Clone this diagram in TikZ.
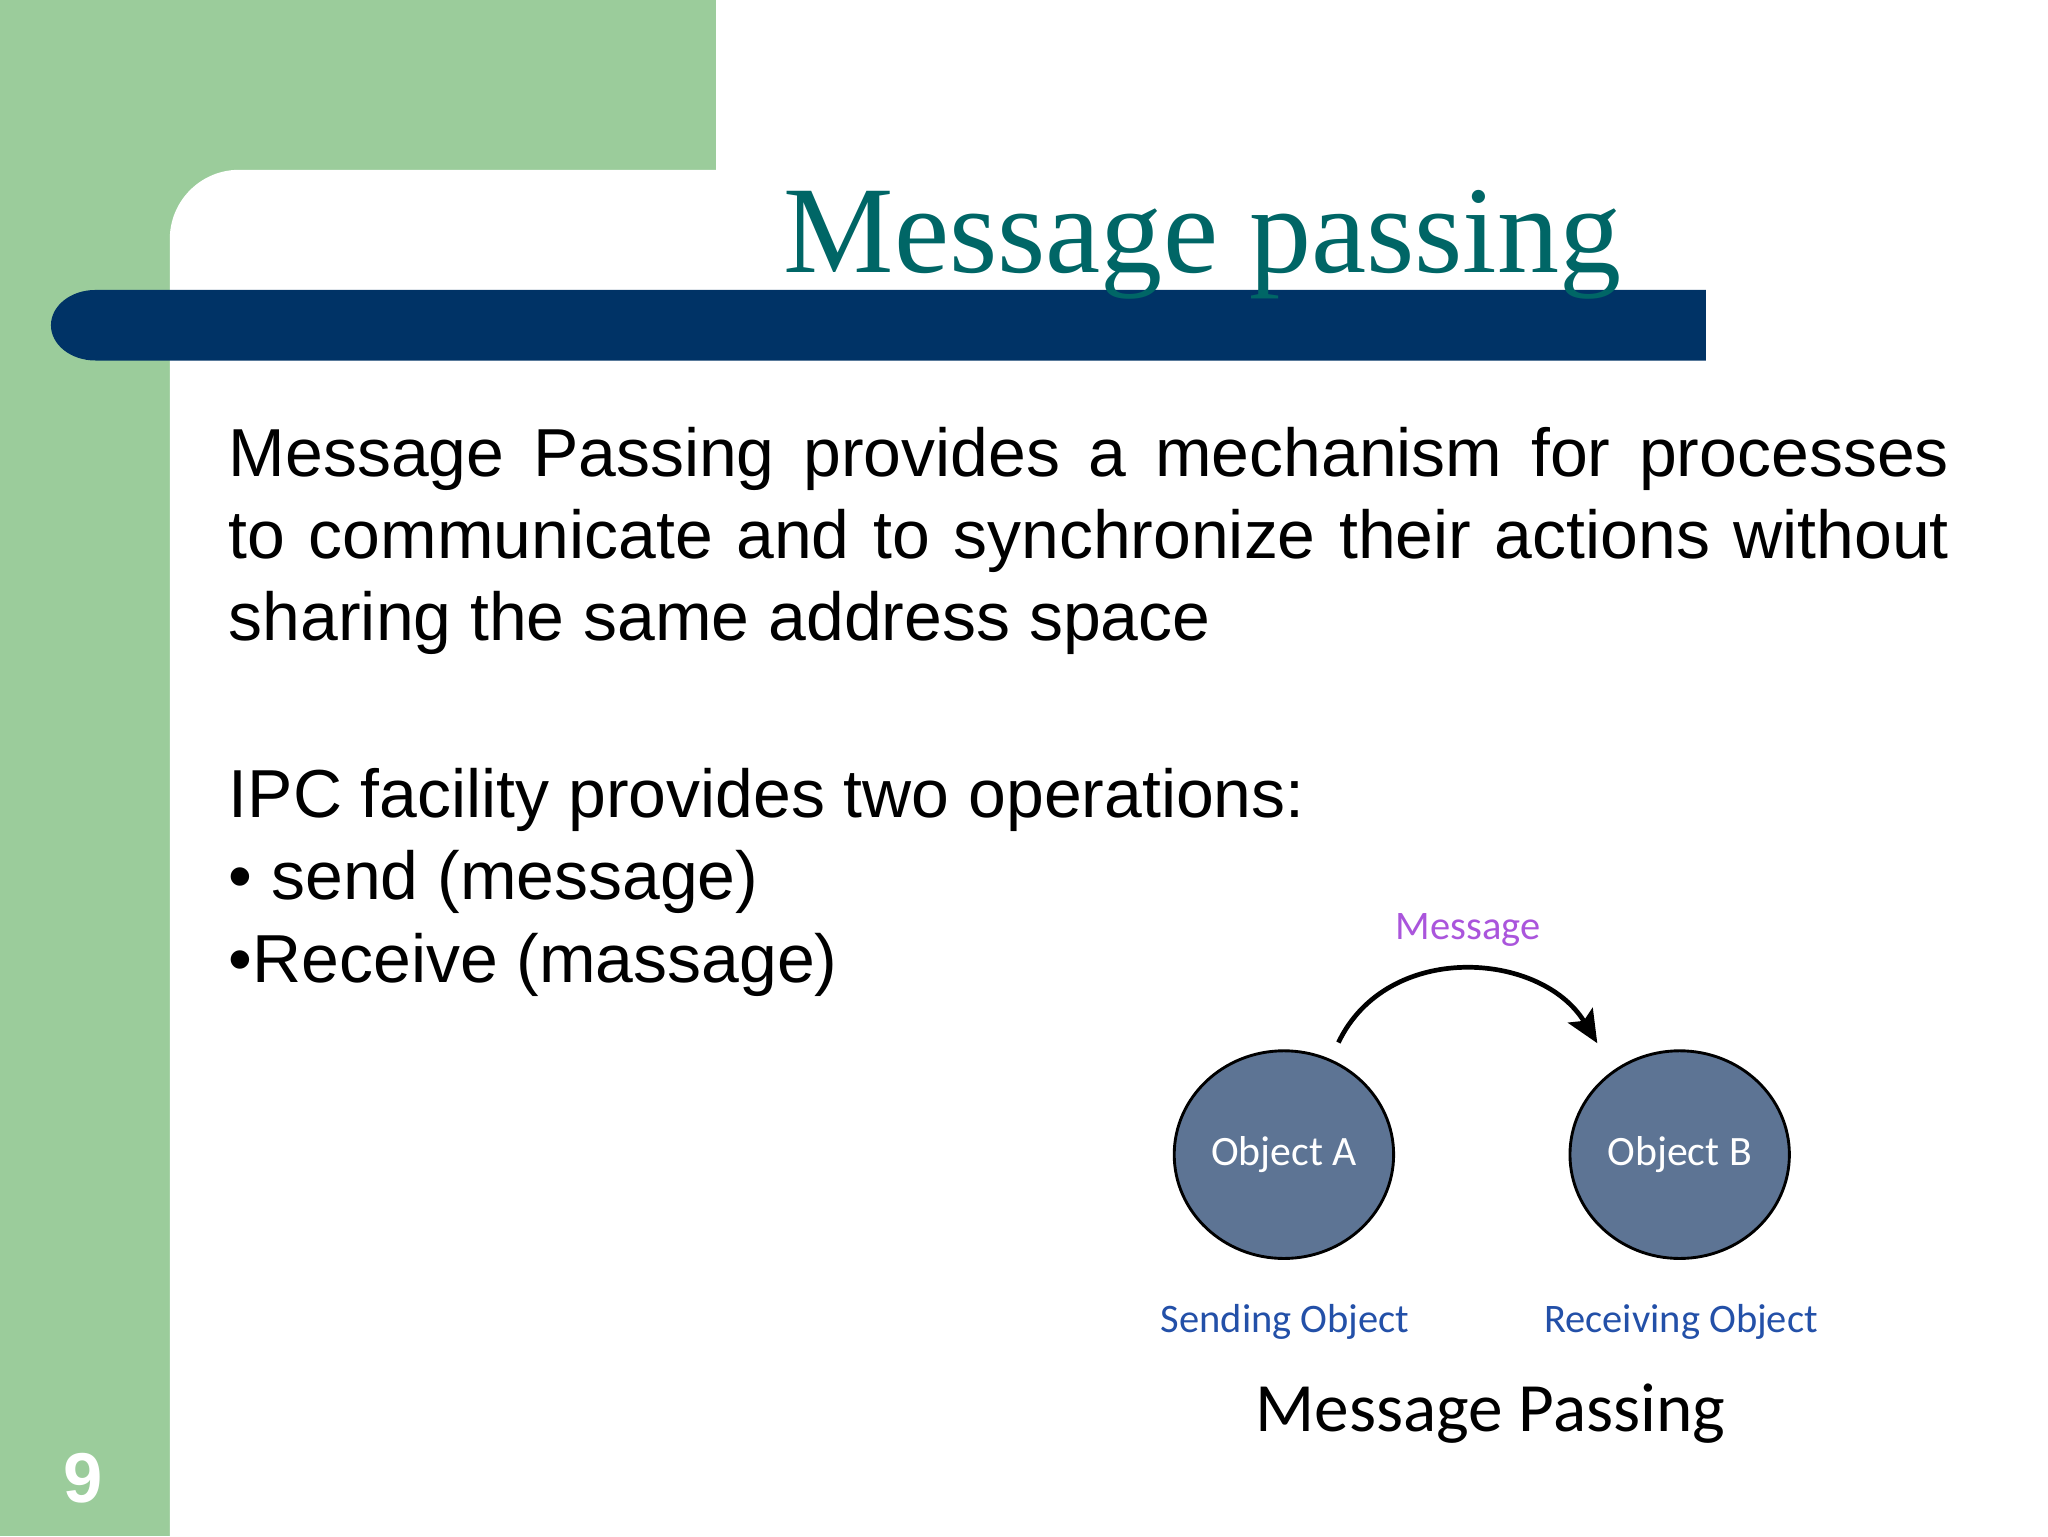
\documentclass[tikz,border=0pt]{standalone}
\usepackage{fontspec}
\setmainfont{Liberation Sans}
\newfontfamily\titlefont{Liberation Serif}
\newfontfamily\figfont{Carlito}
\usepackage{tikz}
\usetikzlibrary{shapes.geometric,arrows.meta}
\definecolor{SlideGreen}{RGB}{155,204,155}
\definecolor{BarBlue}{RGB}{0,51,102}
\definecolor{TitleTeal}{RGB}{0,102,102}
\definecolor{ObjFill}{RGB}{93,116,148}
\definecolor{LabelBlue}{RGB}{35,80,168}
\definecolor{MsgPurple}{RGB}{170,85,220}

\begin{document}
\begin{tikzpicture}[x=1pt, y=-1pt,
        % Style for the two objects
        objnode/.style={
            ellipse,
            draw=black,
            line width=2.2pt,
            fill=ObjFill,
            minimum width=168pt,
            minimum height=159pt,
            inner sep=0pt,
            text=white,
            font=\figfont\fontsize{32}{32}\selectfont
        },
        % Style for the labels under the objects
        objlabel/.style={
            anchor=base,
            text=LabelBlue,
            font=\figfont\fontsize{31}{31}\selectfont
        },
        % Style for the slide text
        bodytext/.style={
            anchor=base west,
            inner sep=0pt,
            font=\fontsize{52}{63}\selectfont
        },
        % Style for the message arrow
        msgarrow/.style={
            -{Stealth[length=25pt, width=22pt, inset=5pt]},
            line width=3.6pt,
            black
        }
    ]

        % --- 1. SLIDE BACKGROUND ---
        \useasboundingbox (0,0) rectangle (1568,1176);
        \clip (0,0) rectangle (1568,1176);
        \fill[white] (0,0) rectangle (1568,1176);
        \fill[SlideGreen] (0,0) rectangle (548,130);
        \fill[SlideGreen] (0,0) rectangle (130,1176);
        \fill[SlideGreen] (0,0) rectangle (190,190);
        \fill[white, rounded corners=53pt] (130,130) rectangle (1700,1300);

        % Blue bar, rounded at the left end
        \fill[BarBlue] (1306,222) -- (73,222)
            arc[start angle=270, end angle=90, x radius=34, y radius=27]
            -- (1306,276) -- cycle;

        % --- 2. TITLE AND PAGE NUMBER ---
        \node[anchor=base west, inner sep=0pt, text=TitleTeal,
              font=\titlefont\fontsize{95}{95}\selectfont] (title) at (600,209) {Message passing};
        \node[text=white, font=\bfseries\fontsize{54}{54}\selectfont] (pagenum) at (64,1132) {9};

        % --- 3. TEXT ---
        \node[bodytext] (line1) at (175,365) {\makebox[1317pt][s]{Message Passing provides a mechanism for processes}};
        \node[bodytext] (line2) at (175,427.5) {\makebox[1317pt][s]{to communicate and to synchronize their actions without}};
        \node[bodytext] (line3) at (175,490) {sharing the same address space};

        \node[bodytext] (ipc) at (175,626) {IPC facility provides two operations:};
        \node[bodytext] (opsend) at (175,689) {\textbullet{} send (message)};
        \node[bodytext] (oprecv) at (175,752) {\textbullet Receive (massage)};

        % --- 4. DIAGRAM ---
        \node[objnode] (objA) at (983,884) {Object A};
        \node[objnode] (objB) at (1286,884) {Object B};

        \node[objlabel] (sendlbl) at (984,1020) {Sending Object};
        \node[objlabel] (recvlbl) at (1287,1020) {Receiving Object};
        \node[objlabel, text=MsgPurple] (msglbl) at (1124,719) {Message};

        \draw[msgarrow, shorten <=14pt, shorten >=24pt]
            (objA.64) .. controls (1062,720) and (1180,728) .. (objB.128);

        % --- 5. CAPTION ---
        \node[anchor=base, font=\figfont\fontsize{53}{53}\selectfont] (caption) at (1141,1096) {Message Passing};

    \end{tikzpicture}
\end{document}
